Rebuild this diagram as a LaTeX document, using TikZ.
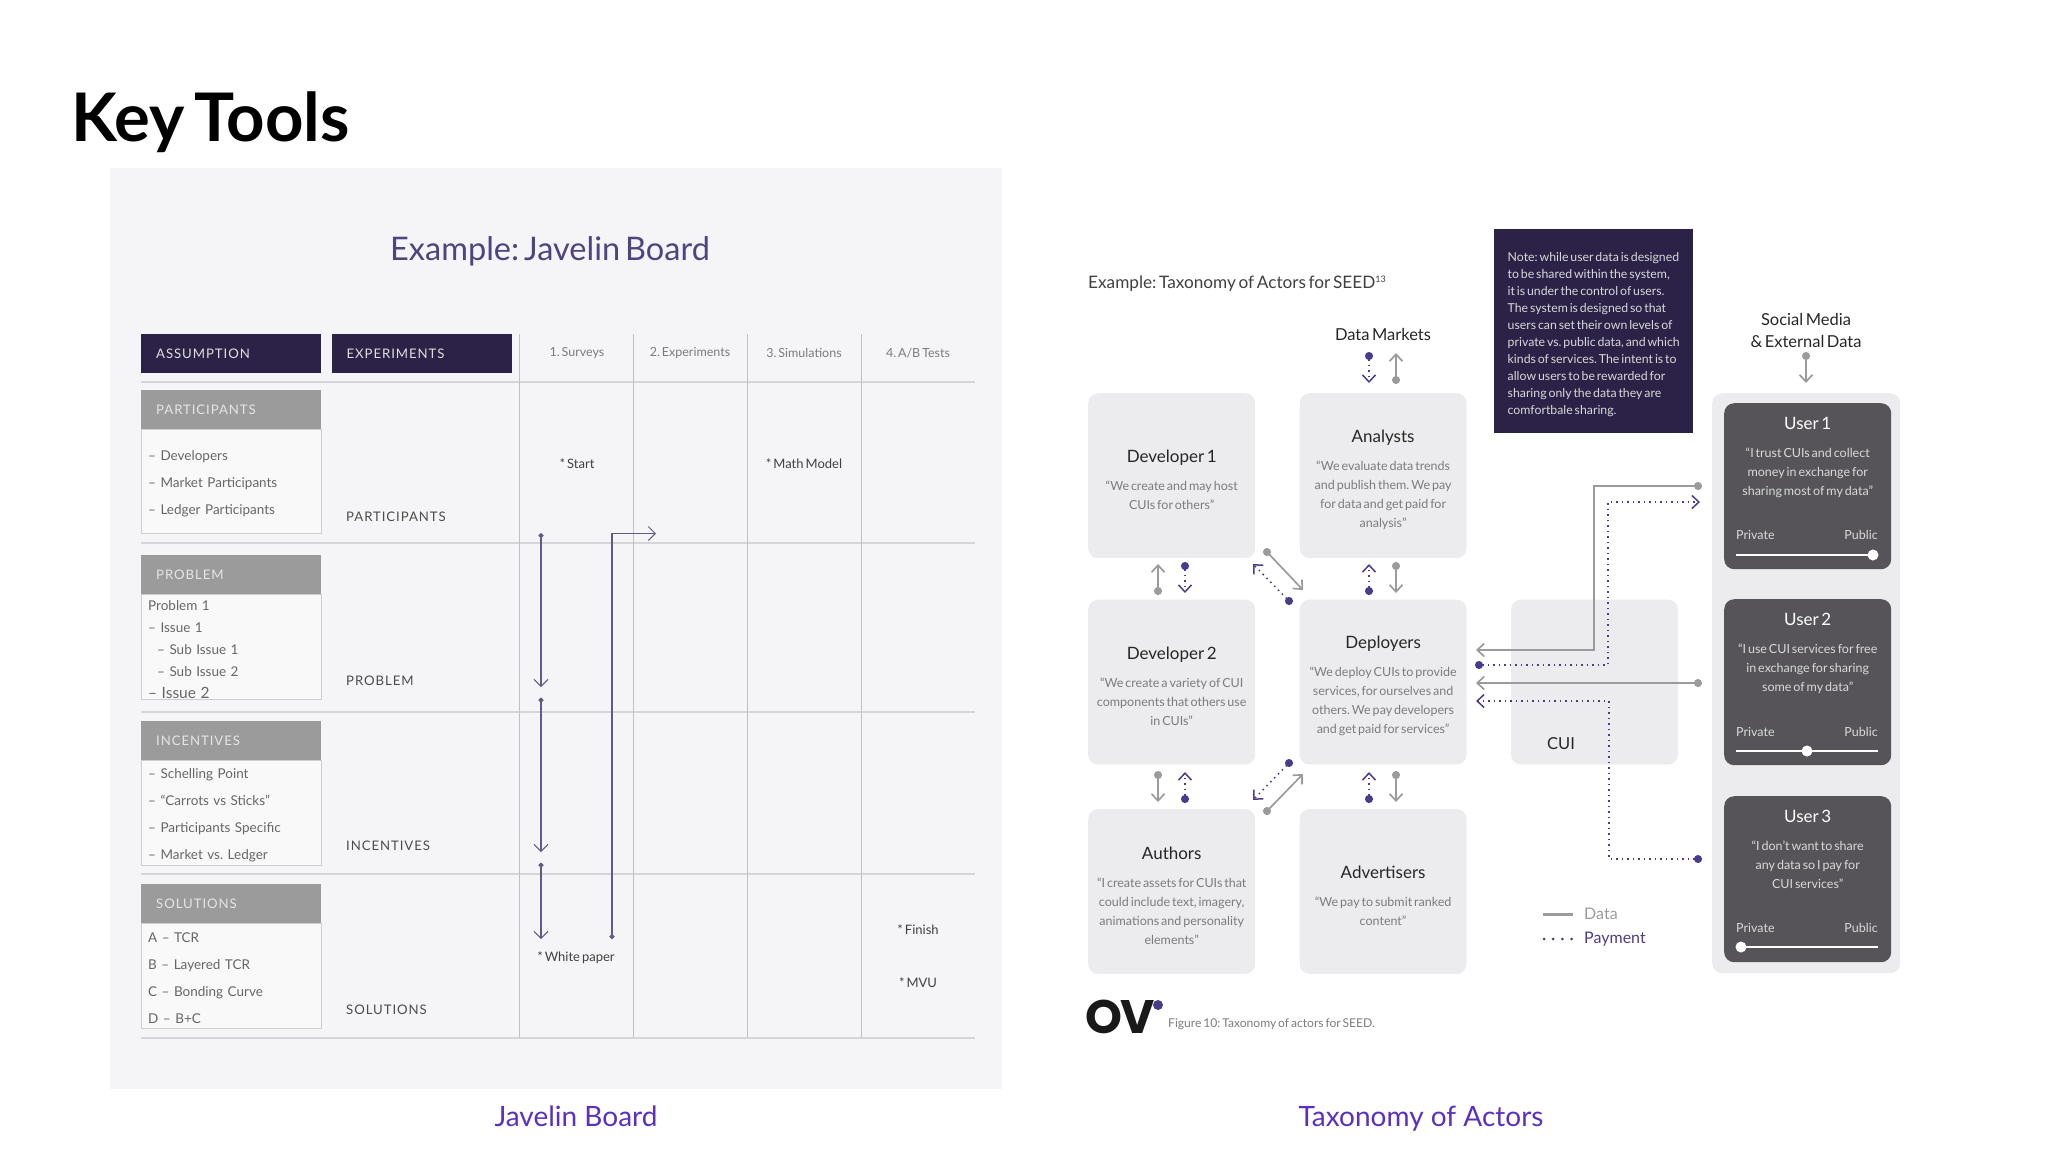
\documentclass[tikz,border=0pt]{standalone}
\usepackage{fontspec}
\usepackage{tikz}
\usetikzlibrary{arrows.meta, positioning}

\setmainfont[WordSpace=0.6]{Lato}
\newfontfamily\capsfont[LetterSpace=7]{Lato}
\newfontfamily\captionfont{Lato}
\newfontfamily\logofont{Poppins}
\AtBeginDocument{\frenchspacing}

\definecolor{panelgray}{HTML}{F5F5F7}
\definecolor{navy}{HTML}{2C2146}
\definecolor{headgray}{HTML}{9B9B9B}
\definecolor{rulegray}{HTML}{D6D6DA}
\definecolor{colgray}{HTML}{C0C0C8}
\definecolor{boxgray}{HTML}{CDCDCF}
\definecolor{cardgray}{HTML}{ECECEE}
\definecolor{usergray}{HTML}{565459}
\definecolor{textgray}{HTML}{7C7C80}
\definecolor{datagray}{HTML}{9B9B9E}
\definecolor{paypurple}{HTML}{4A3C8C}
\definecolor{boardline}{HTML}{5F5A88}
\definecolor{boardhead}{HTML}{4E4480}
\definecolor{capviolet}{HTML}{5B2FBF}

\newcommand{\cardtitle}[1]{{\rule{0pt}{21pt}\fontsize{17}{19}\selectfont\color{black!85}#1}\\[9pt]}
\newcommand{\usertitle}[1]{{\fontsize{17}{19}\selectfont\color{white}#1}\\[9pt]}

\begin{document}
\begin{tikzpicture}[
    x=1pt, y=-1pt,
    node distance=44pt, auto,
    panel/.style ={rectangle, fill=panelgray, inner sep=0pt, anchor=north west},
    headbox/.style ={rectangle, fill=navy, text=white!88!black, minimum height=39pt, text width=150pt, inner xsep=15pt, inner ysep=0pt, align=left, font=\capsfont\fontsize{13.2}{16}\selectfont},
    grouphead/.style ={rectangle, fill=headgray, text=white!90!black, minimum height=39pt, text width=150pt, inner xsep=15pt, inner ysep=0pt, align=left, font=\capsfont\fontsize{13.2}{16}\selectfont},
    listbox/.style ={rectangle, draw=boxgray, thick, fill=panelgray!60!white, text=black!60, minimum height=105pt, text width=166pt, inner xsep=7pt, inner ysep=0pt, align=left, execute at begin node=\rule{0pt}{14pt}, font=\fontsize{13.5}{27}\selectfont},
    rowlabel/.style ={anchor=west, inner sep=0pt, text=black!70, font=\capsfont\fontsize{13.2}{16}\selectfont},
    colhead/.style ={inner sep=0pt, text=textgray, font=\fontsize{12.5}{15}\selectfont},
    remark/.style ={inner sep=0pt, text=black!75, font=\fontsize{13}{15}\selectfont},
    card/.style ={rectangle, rounded corners=10pt, fill=cardgray, text=textgray, minimum width=167pt, minimum height=165pt, inner sep=0pt, align=center, font=\fontsize{12.5}{19}\selectfont},
    usercard/.style ={rectangle, rounded corners=10pt, fill=usergray, minimum width=167pt, minimum height=166pt, inner sep=0pt},
    usertext/.style ={anchor=north, inner sep=0pt, text=white!85!black, align=center, font=\fontsize{12.5}{19}\selectfont},
    sliderlabel/.style ={inner sep=0pt, text=white!85!black, font=\fontsize{12.5}{15}\selectfont},
    thumb/.style ={circle, fill=white, minimum size=11pt, inner sep=0pt},
    slider/.style ={draw, white, line width=1.6pt},
    rule/.style ={draw, rulegray, line width=1.4pt},
    column/.style ={draw, colgray, line width=1pt},
    boardarrow/.style ={draw, boardline, line width=1.2pt, {Circle[length=5pt,sep=-2.5pt]}-{Straight Barb[length=7pt,width=14pt,line width=1pt]}},
    dataline/.style ={draw, datagray, line width=1.7pt, {Circle[length=8pt,sep=-4pt]}-{Straight Barb[length=7pt,width=13pt]}},
    payline/.style ={draw, paypurple, line width=1.5pt, dash pattern=on 1.5pt off 4pt, {Circle[length=8pt,sep=-4pt]}-{Straight Barb[length=7pt,width=13pt]}},
]
\useasboundingbox (0,0) rectangle (2048,1152);

% Title and panel
\node [anchor=base west, inner sep=0pt, text=black, font=\bfseries\fontsize{67}{70}\selectfont] (title) at (71,141) {Key Tools};
\node [panel, minimum width=892pt, minimum height=921pt] (board) at (110,168) {};
\node [inner sep=0pt, text=boardhead, font=\fontsize{32.5}{36}\selectfont] (boardtitle) at (550,251) {Example: Javelin Board};

% Board grid
\coordinate (ruleA) at (141,382); \coordinate (ruleAe) at (975,382);
\coordinate (ruleB) at (141,543); \coordinate (ruleBe) at (975,543);
\coordinate (ruleC) at (141,712); \coordinate (ruleCe) at (975,712);
\coordinate (ruleD) at (141,874); \coordinate (ruleDe) at (975,874);
\coordinate (ruleE) at (141,1038); \coordinate (ruleEe) at (975,1038);
\path [rule] (ruleA) -- (ruleAe);
\path [rule] (ruleB) -- (ruleBe);
\path [rule] (ruleC) -- (ruleCe);
\path [rule] (ruleD) -- (ruleDe);
\path [rule] (ruleE) -- (ruleEe);
\coordinate (colA) at (519,334); \coordinate (colAe) at (519,1038);
\coordinate (colB) at (633.5,334); \coordinate (colBe) at (633.5,1038);
\coordinate (colC) at (747,334); \coordinate (colCe) at (747,1038);
\coordinate (colD) at (861,334); \coordinate (colDe) at (861,1038);
\path [column] (colA) -- (colAe);
\path [column] (colB) -- (colBe);
\path [column] (colC) -- (colCe);
\path [column] (colD) -- (colDe);

% Board headers
\node [headbox, anchor=north west] (assumption) at (141,334) {ASSUMPTION};
\node [headbox, right=10pt of assumption] (experiments) {EXPERIMENTS};
\node [colhead] (surveys) at (577,353) {1. Surveys};
\node [colhead] (trials) at (690,353) {2. Experiments};
\node [colhead] (simulations) at (804,353) {3. Simulations};
\node [colhead] (abtests) at (918,353) {4. A/B Tests};

% Board groups
\node [grouphead, anchor=north west] (parthead) at (141,390) {PARTICIPANTS};
\node [listbox, below=0pt of parthead, minimum height=104pt] (partlist) {– Developers\\– Market Participants\\– Ledger Participants};
\node [grouphead, anchor=north west] (probhead) at (141,555) {PROBLEM};
\node [listbox, below=0pt of probhead, font=\fontsize{13.5}{22}\selectfont] (problist) {Problem 1\\– Issue 1\\\hspace*{9pt}– Sub Issue 1\\\hspace*{9pt}– Sub Issue 2\\{\fontsize{15.5}{22}\selectfont – Issue 2}};
\node [grouphead, anchor=north west] (inchead) at (141,721) {INCENTIVES};
\node [listbox, below=0pt of inchead] (inclist) {– Schelling Point\\– “Carrots vs Sticks”\\– Participants Specific\\– Market vs. Ledger};
\node [grouphead, anchor=north west] (solhead) at (141,884) {SOLUTIONS};
\node [listbox, below=0pt of solhead] (sollist) {A – TCR\\B – Layered TCR\\C – Bonding Curve\\D – B+C};
\node [rowlabel] (partrow) at (346,517) {PARTICIPANTS};
\node [rowlabel] (probrow) at (346,681) {PROBLEM};
\node [rowlabel] (incrow) at (346,846) {INCENTIVES};
\node [rowlabel] (solrow) at (346,1010) {SOLUTIONS};

% Board remarks
\node [remark] (start) at (577,464) {* Start};
\node [remark] (mathmodel) at (804,464) {* Math Model};
\node [remark] (whitepaper) at (576,958) {* White paper};
\node [remark] (finish) at (918,930) {* Finish};
\node [remark] (mvu) at (918,983) {* MVU};

% Board arrows
\coordinate (surveyA) at (541,535.5); \coordinate (surveyAe) at (541,687);
\coordinate (surveyB) at (541,700); \coordinate (surveyBe) at (541,852);
\coordinate (surveyC) at (541,865); \coordinate (surveyCe) at (541,939);
\coordinate (paperA) at (612,936.5); \coordinate (paperB) at (612,533.5); \coordinate (paperC) at (656,533.5);
\path [boardarrow] (surveyA) -- (surveyAe);
\path [boardarrow] (surveyB) -- (surveyBe);
\path [boardarrow] (surveyC) -- (surveyCe);
\path [boardarrow] (paperA) -- (paperB) -- (paperC);

% Taxonomy heads
\node [anchor=west, inner sep=0pt, text=black!75, font=\fontsize{17.2}{20}\selectfont] (taxtitle) at (1088,284) {Example: Taxonomy of Actors for SEED\textsuperscript{\fontsize{9}{9}\selectfont 13}};
\node [rectangle, fill=navy, anchor=north west, minimum width=199pt, minimum height=204pt, inner sep=0pt, align=left, text=white!85!black, font=\fontsize{12.3}{17}\selectfont] (note) at (1494,229) {\rule{0pt}{15pt}Note: while user data is designed\\to be shared within the system,\\it is under the control of users.\\The system is designed so that\\users can set their own levels of\\private vs. public data, and which\\kinds of services. The intent is to\\allow users to be rewarded for\\sharing only the data they are\\comfortbale sharing.};
\node [inner sep=0pt, text=black!85, font=\fontsize{16.5}{20}\selectfont] (markets) at (1383,334) {Data Markets};
\node [inner sep=0pt, align=center, text=black!85, font=\fontsize{16.5}{22}\selectfont] (social) at (1806,330) {Social Media\\\& External Data};

% Actors
\node [card, anchor=north west] (dev1) at (1088,393) {\cardtitle{Developer 1}“We create and may host\\CUIs for others”};
\node [card, right=of dev1] (analysts) {\cardtitle{Analysts}“We evaluate data trends\\and publish them. We pay\\for data and get paid for\\analysis”};
\node [card, below=41pt of dev1] (dev2) {\cardtitle{Developer 2}“We create a variety of CUI\\components that others use\\in CUIs”};
\node [card, right=of dev2] (deployers) {\cardtitle{Deployers}“We deploy CUIs to provide\\services, for ourselves and\\others. We pay developers\\and get paid for services”};
\node [card, below=of dev2] (authors) {\cardtitle{Authors}“I create assets for CUIs that\\could include text, imagery,\\animations and personality\\elements”};
\node [card, right=of authors] (advertisers) {\cardtitle{Advertisers}“We pay to submit ranked\\content”};
\node [card, right=of deployers] (cui) {};
\node [inner sep=0pt, text=black!85, font=\fontsize{16.5}{20}\selectfont] (cuilabel) at (1561,744) {CUI};

% Users
\node [panel, fill=cardgray, rounded corners=10pt, minimum width=188pt, minimum height=580pt] (users) at (1712,393) {};
\node [usercard, anchor=north west] (user1) at (1724,403) {};
\node [usertext, below=14pt of user1.north] (user1text) {\usertitle{User 1}“I trust CUIs and collect\\money in exchange for\\sharing most of my data”};
\node [sliderlabel, anchor=base west] (priv1) at (1736,539) {Private};
\node [sliderlabel, anchor=base east] (pub1) at (1878,539) {Public};
\coordinate (bar1) at (1736,555); \coordinate (bar1e) at (1878,555);
\path [slider] (bar1) -- (bar1e);
\node [thumb] (thumb1) at (1873,555) {};
\node [usercard, anchor=north west] (user2) at (1724,599) {};
\node [usertext, below=14pt of user2.north] (user2text) {\usertitle{User 2}“I use CUI services for free\\in exchange for sharing\\some of my data”};
\node [sliderlabel, anchor=base west] (priv2) at (1736,736) {Private};
\node [sliderlabel, anchor=base east] (pub2) at (1878,736) {Public};
\coordinate (bar2) at (1736,751); \coordinate (bar2e) at (1878,751);
\path [slider] (bar2) -- (bar2e);
\node [thumb] (thumb2) at (1807,751) {};
\node [usercard, anchor=north west] (user3) at (1724,796) {};
\node [usertext, below=14pt of user3.north] (user3text) {\usertitle{User 3}“I don’t want to share\\any data so I pay for\\CUI services”};
\node [sliderlabel, anchor=base west] (priv3) at (1736,932) {Private};
\node [sliderlabel, anchor=base east] (pub3) at (1878,932) {Public};
\coordinate (bar3) at (1736,947); \coordinate (bar3e) at (1878,947);
\path [slider] (bar3) -- (bar3e);
\node [thumb] (thumb3) at (1741,947) {};

% Lines between actors
\coordinate (mktpay) at (1369,356); \coordinate (mktpaye) at (1369,383);
\coordinate (mktdata) at (1396,380); \coordinate (mktdatae) at (1396,353);
\coordinate (devdata) at (1158,591); \coordinate (devdatae) at (1158,564);
\coordinate (devpay) at (1185,566); \coordinate (devpaye) at (1185,593);
\coordinate (crossdata) at (1267,552); \coordinate (crossdatae) at (1303,590);
\coordinate (crosspay) at (1289,601); \coordinate (crosspaye) at (1253,564);
\coordinate (anapay) at (1369,591); \coordinate (anapaye) at (1369,564);
\coordinate (anadata) at (1396,566); \coordinate (anadatae) at (1396,593);
\coordinate (authdata) at (1158,775); \coordinate (authdatae) at (1158,802);
\coordinate (authpay) at (1185,799); \coordinate (authpaye) at (1185,772);
\coordinate (lowpay) at (1289,763); \coordinate (lowpaye) at (1253,800);
\coordinate (lowdata) at (1267,811); \coordinate (lowdatae) at (1303,774);
\coordinate (advpay) at (1369,799); \coordinate (advpaye) at (1369,772);
\coordinate (advdata) at (1396,775); \coordinate (advdatae) at (1396,802);
\coordinate (socdata) at (1806,356); \coordinate (socdatae) at (1806,383);
\path [payline] (mktpay) -- (mktpaye);
\path [dataline] (mktdata) -- (mktdatae);
\path [dataline] (devdata) -- (devdatae);
\path [payline] (devpay) -- (devpaye);
\path [dataline] (crossdata) -- (crossdatae);
\path [payline] (crosspay) -- (crosspaye);
\path [payline] (anapay) -- (anapaye);
\path [dataline] (anadata) -- (anadatae);
\path [dataline] (authdata) -- (authdatae);
\path [payline] (authpay) -- (authpaye);
\path [payline] (lowpay) -- (lowpaye);
\path [dataline] (lowdata) -- (lowdatae);
\path [payline] (advpay) -- (advpaye);
\path [dataline] (advdata) -- (advdatae);
\path [dataline] (socdata) -- (socdatae);

% Lines through the CUI
\coordinate (ufirst) at (1698,486); \coordinate (ufirstbend) at (1594,486); \coordinate (depfirst) at (1476,650);
\coordinate (depsecond) at (1479,665); \coordinate (depsecondbend) at (1608,665); \coordinate (usecond) at (1700,502);
\coordinate (umiddle) at (1698,683); \coordinate (depmiddle) at (1476,683);
\coordinate (ulast) at (1698,859); \coordinate (ulastbend) at (1609,859); \coordinate (deplast) at (1476,701);
\path [dataline] (ufirst) -- (ufirstbend) |- (depfirst);
\path [payline] (depsecond) -- (depsecondbend) |- (usecond);
\path [dataline] (umiddle) -- (depmiddle);
\path [payline] (ulast) -- (ulastbend) |- (deplast);

% Legend
\coordinate (keydata) at (1543,914); \coordinate (keydatae) at (1573,914);
\coordinate (keypay) at (1544,939); \coordinate (keypaye) at (1574,939);
\path [draw, datagray, line width=3pt] (keydata) -- (keydatae);
\path [draw, paypurple, line width=3pt, line cap=round, dash pattern=on 0pt off 9.2pt] (keypay) -- (keypaye);
\node [anchor=west, inner sep=0pt, text=datagray, font=\fontsize{16}{20}\selectfont] (keydatalabel) at (1584,914) {Data};
\node [anchor=west, inner sep=0pt, text=paypurple, font=\fontsize{16}{20}\selectfont] (keypaylabel) at (1584,939) {Payment};

% Logo and captions
\node [anchor=base west, inner sep=0pt, text=black!90, font=\logofont\bfseries\fontsize{47}{50}\selectfont] (logo) at (1085,1033) {O\kern-2pt V};
\node [circle, fill=paypurple, minimum size=10pt, inner sep=0pt] (logodot) at (1158,1005) {};
\node [anchor=west, inner sep=0pt, text=textgray, font=\fontsize{12.1}{15}\selectfont] (figcaption) at (1168,1024) {Figure 10: Taxonomy of actors for SEED.};
\node [anchor=base, inner sep=0pt, text=capviolet, font=\captionfont\fontsize{28}{32}\selectfont] (javelincap) at (576,1126) {Javelin Board};
\node [anchor=base, inner sep=0pt, text=capviolet, font=\captionfont\fontsize{28}{32}\selectfont] (taxcap) at (1421,1126) {Taxonomy of Actors};

\end{tikzpicture}
\end{document}
